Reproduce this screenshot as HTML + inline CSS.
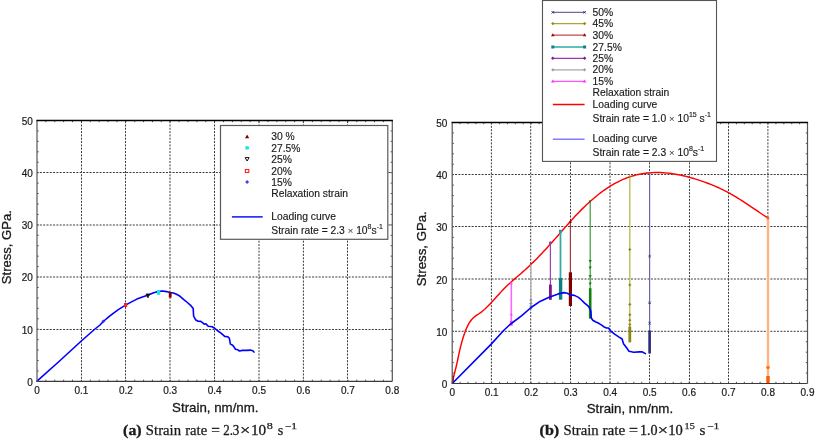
<!DOCTYPE html>
<html><head><meta charset="utf-8"><title>Stress-strain figure</title>
<style>
html,body{margin:0;padding:0;background:#fff;}
body{width:815px;height:439px;overflow:hidden;}
svg{display:block;}
text{fill:#1a1a1a;}
.tk{font-family:'Liberation Sans', Arial, sans-serif;font-size:10px;stroke:#1a1a1a;stroke-width:0.2px;}
.lg{font-family:'Liberation Sans', Arial, sans-serif;font-size:10.3px;stroke:#1a1a1a;stroke-width:0.15px;}
.sup{font-size:7px;}
.mul{font-size:9.5px;stroke-width:0;fill:#333;}
.al{font-family:'Liberation Sans', Arial, sans-serif;font-size:13.3px;stroke:#1a1a1a;stroke-width:0.3px;}
.cap{font-family:'Liberation Serif', 'Times New Roman', serif;stroke:#1a1a1a;stroke-width:0.25px;}
.capm{font-family:'Liberation Serif', 'Times New Roman', serif;stroke:#1a1a1a;stroke-width:0.3px;}
.capb{font-family:'Liberation Serif', 'Times New Roman', serif;font-weight:bold;stroke:#111;stroke-width:0.3px;}
.csup{font-family:'Liberation Serif', 'Times New Roman', serif;stroke:#1a1a1a;stroke-width:0.25px;}
</style></head><body>
<svg width="815" height="439" viewBox="0 0 815 439">
<rect width="815" height="439" fill="#fff"/>
<line x1="81.5" y1="381.4" x2="81.5" y2="120.5" stroke="#3a3a3a" stroke-width="1" stroke-dasharray="2 1.32" stroke-dashoffset="0.7"/>
<line x1="125.5" y1="381.4" x2="125.5" y2="120.5" stroke="#3a3a3a" stroke-width="1" stroke-dasharray="2 1.32" stroke-dashoffset="0.7"/>
<line x1="170" y1="381.4" x2="170" y2="120.5" stroke="#3a3a3a" stroke-width="1" stroke-dasharray="2 1.32" stroke-dashoffset="0.7"/>
<line x1="214.5" y1="381.4" x2="214.5" y2="120.5" stroke="#3a3a3a" stroke-width="1" stroke-dasharray="2 1.32" stroke-dashoffset="0.7"/>
<line x1="259" y1="381.4" x2="259" y2="120.5" stroke="#3a3a3a" stroke-width="1" stroke-dasharray="2 1.32" stroke-dashoffset="0.7"/>
<line x1="303.4" y1="381.4" x2="303.4" y2="120.5" stroke="#3a3a3a" stroke-width="1" stroke-dasharray="2 1.32" stroke-dashoffset="0.7"/>
<line x1="347.5" y1="381.4" x2="347.5" y2="120.5" stroke="#3a3a3a" stroke-width="1" stroke-dasharray="2 1.32" stroke-dashoffset="0.7"/>
<line x1="37" y1="329.5" x2="392.3" y2="329.5" stroke="#3a3a3a" stroke-width="1" stroke-dasharray="2 1.32" stroke-dashoffset="0.5"/>
<line x1="37" y1="277" x2="392.3" y2="277" stroke="#3a3a3a" stroke-width="1" stroke-dasharray="2 1.32" stroke-dashoffset="0.5"/>
<line x1="37" y1="225" x2="392.3" y2="225" stroke="#3a3a3a" stroke-width="1" stroke-dasharray="2 1.32" stroke-dashoffset="0.5"/>
<line x1="37" y1="172.5" x2="392.3" y2="172.5" stroke="#3a3a3a" stroke-width="1" stroke-dasharray="2 1.32" stroke-dashoffset="0.5"/>
<line x1="45.88" y1="381.4" x2="45.88" y2="379.7" stroke="#555" stroke-width="1"/>
<line x1="45.88" y1="120.5" x2="45.88" y2="122.2" stroke="#555" stroke-width="1"/>
<line x1="54.77" y1="381.4" x2="54.77" y2="379.7" stroke="#555" stroke-width="1"/>
<line x1="54.77" y1="120.5" x2="54.77" y2="122.2" stroke="#555" stroke-width="1"/>
<line x1="63.65" y1="381.4" x2="63.65" y2="379.7" stroke="#555" stroke-width="1"/>
<line x1="63.65" y1="120.5" x2="63.65" y2="122.2" stroke="#555" stroke-width="1"/>
<line x1="72.53" y1="381.4" x2="72.53" y2="379.7" stroke="#555" stroke-width="1"/>
<line x1="72.53" y1="120.5" x2="72.53" y2="122.2" stroke="#555" stroke-width="1"/>
<line x1="81.41" y1="381.4" x2="81.41" y2="379.7" stroke="#555" stroke-width="1"/>
<line x1="81.41" y1="120.5" x2="81.41" y2="122.2" stroke="#555" stroke-width="1"/>
<line x1="90.3" y1="381.4" x2="90.3" y2="379.7" stroke="#555" stroke-width="1"/>
<line x1="90.3" y1="120.5" x2="90.3" y2="122.2" stroke="#555" stroke-width="1"/>
<line x1="99.18" y1="381.4" x2="99.18" y2="379.7" stroke="#555" stroke-width="1"/>
<line x1="99.18" y1="120.5" x2="99.18" y2="122.2" stroke="#555" stroke-width="1"/>
<line x1="108.06" y1="381.4" x2="108.06" y2="379.7" stroke="#555" stroke-width="1"/>
<line x1="108.06" y1="120.5" x2="108.06" y2="122.2" stroke="#555" stroke-width="1"/>
<line x1="116.94" y1="381.4" x2="116.94" y2="379.7" stroke="#555" stroke-width="1"/>
<line x1="116.94" y1="120.5" x2="116.94" y2="122.2" stroke="#555" stroke-width="1"/>
<line x1="125.83" y1="381.4" x2="125.83" y2="379.7" stroke="#555" stroke-width="1"/>
<line x1="125.83" y1="120.5" x2="125.83" y2="122.2" stroke="#555" stroke-width="1"/>
<line x1="134.71" y1="381.4" x2="134.71" y2="379.7" stroke="#555" stroke-width="1"/>
<line x1="134.71" y1="120.5" x2="134.71" y2="122.2" stroke="#555" stroke-width="1"/>
<line x1="143.59" y1="381.4" x2="143.59" y2="379.7" stroke="#555" stroke-width="1"/>
<line x1="143.59" y1="120.5" x2="143.59" y2="122.2" stroke="#555" stroke-width="1"/>
<line x1="152.47" y1="381.4" x2="152.47" y2="379.7" stroke="#555" stroke-width="1"/>
<line x1="152.47" y1="120.5" x2="152.47" y2="122.2" stroke="#555" stroke-width="1"/>
<line x1="161.35" y1="381.4" x2="161.35" y2="379.7" stroke="#555" stroke-width="1"/>
<line x1="161.35" y1="120.5" x2="161.35" y2="122.2" stroke="#555" stroke-width="1"/>
<line x1="170.24" y1="381.4" x2="170.24" y2="379.7" stroke="#555" stroke-width="1"/>
<line x1="170.24" y1="120.5" x2="170.24" y2="122.2" stroke="#555" stroke-width="1"/>
<line x1="179.12" y1="381.4" x2="179.12" y2="379.7" stroke="#555" stroke-width="1"/>
<line x1="179.12" y1="120.5" x2="179.12" y2="122.2" stroke="#555" stroke-width="1"/>
<line x1="188" y1="381.4" x2="188" y2="379.7" stroke="#555" stroke-width="1"/>
<line x1="188" y1="120.5" x2="188" y2="122.2" stroke="#555" stroke-width="1"/>
<line x1="196.89" y1="381.4" x2="196.89" y2="379.7" stroke="#555" stroke-width="1"/>
<line x1="196.89" y1="120.5" x2="196.89" y2="122.2" stroke="#555" stroke-width="1"/>
<line x1="205.77" y1="381.4" x2="205.77" y2="379.7" stroke="#555" stroke-width="1"/>
<line x1="205.77" y1="120.5" x2="205.77" y2="122.2" stroke="#555" stroke-width="1"/>
<line x1="214.65" y1="381.4" x2="214.65" y2="379.7" stroke="#555" stroke-width="1"/>
<line x1="214.65" y1="120.5" x2="214.65" y2="122.2" stroke="#555" stroke-width="1"/>
<line x1="223.53" y1="381.4" x2="223.53" y2="379.7" stroke="#555" stroke-width="1"/>
<line x1="223.53" y1="120.5" x2="223.53" y2="122.2" stroke="#555" stroke-width="1"/>
<line x1="232.42" y1="381.4" x2="232.42" y2="379.7" stroke="#555" stroke-width="1"/>
<line x1="232.42" y1="120.5" x2="232.42" y2="122.2" stroke="#555" stroke-width="1"/>
<line x1="241.3" y1="381.4" x2="241.3" y2="379.7" stroke="#555" stroke-width="1"/>
<line x1="241.3" y1="120.5" x2="241.3" y2="122.2" stroke="#555" stroke-width="1"/>
<line x1="250.18" y1="381.4" x2="250.18" y2="379.7" stroke="#555" stroke-width="1"/>
<line x1="250.18" y1="120.5" x2="250.18" y2="122.2" stroke="#555" stroke-width="1"/>
<line x1="259.06" y1="381.4" x2="259.06" y2="379.7" stroke="#555" stroke-width="1"/>
<line x1="259.06" y1="120.5" x2="259.06" y2="122.2" stroke="#555" stroke-width="1"/>
<line x1="267.95" y1="381.4" x2="267.95" y2="379.7" stroke="#555" stroke-width="1"/>
<line x1="267.95" y1="120.5" x2="267.95" y2="122.2" stroke="#555" stroke-width="1"/>
<line x1="276.83" y1="381.4" x2="276.83" y2="379.7" stroke="#555" stroke-width="1"/>
<line x1="276.83" y1="120.5" x2="276.83" y2="122.2" stroke="#555" stroke-width="1"/>
<line x1="285.71" y1="381.4" x2="285.71" y2="379.7" stroke="#555" stroke-width="1"/>
<line x1="285.71" y1="120.5" x2="285.71" y2="122.2" stroke="#555" stroke-width="1"/>
<line x1="294.59" y1="381.4" x2="294.59" y2="379.7" stroke="#555" stroke-width="1"/>
<line x1="294.59" y1="120.5" x2="294.59" y2="122.2" stroke="#555" stroke-width="1"/>
<line x1="303.48" y1="381.4" x2="303.48" y2="379.7" stroke="#555" stroke-width="1"/>
<line x1="303.48" y1="120.5" x2="303.48" y2="122.2" stroke="#555" stroke-width="1"/>
<line x1="312.36" y1="381.4" x2="312.36" y2="379.7" stroke="#555" stroke-width="1"/>
<line x1="312.36" y1="120.5" x2="312.36" y2="122.2" stroke="#555" stroke-width="1"/>
<line x1="321.24" y1="381.4" x2="321.24" y2="379.7" stroke="#555" stroke-width="1"/>
<line x1="321.24" y1="120.5" x2="321.24" y2="122.2" stroke="#555" stroke-width="1"/>
<line x1="330.12" y1="381.4" x2="330.12" y2="379.7" stroke="#555" stroke-width="1"/>
<line x1="330.12" y1="120.5" x2="330.12" y2="122.2" stroke="#555" stroke-width="1"/>
<line x1="339" y1="381.4" x2="339" y2="379.7" stroke="#555" stroke-width="1"/>
<line x1="339" y1="120.5" x2="339" y2="122.2" stroke="#555" stroke-width="1"/>
<line x1="347.89" y1="381.4" x2="347.89" y2="379.7" stroke="#555" stroke-width="1"/>
<line x1="347.89" y1="120.5" x2="347.89" y2="122.2" stroke="#555" stroke-width="1"/>
<line x1="356.77" y1="381.4" x2="356.77" y2="379.7" stroke="#555" stroke-width="1"/>
<line x1="356.77" y1="120.5" x2="356.77" y2="122.2" stroke="#555" stroke-width="1"/>
<line x1="365.65" y1="381.4" x2="365.65" y2="379.7" stroke="#555" stroke-width="1"/>
<line x1="365.65" y1="120.5" x2="365.65" y2="122.2" stroke="#555" stroke-width="1"/>
<line x1="374.53" y1="381.4" x2="374.53" y2="379.7" stroke="#555" stroke-width="1"/>
<line x1="374.53" y1="120.5" x2="374.53" y2="122.2" stroke="#555" stroke-width="1"/>
<line x1="383.42" y1="381.4" x2="383.42" y2="379.7" stroke="#555" stroke-width="1"/>
<line x1="383.42" y1="120.5" x2="383.42" y2="122.2" stroke="#555" stroke-width="1"/>
<line x1="37" y1="370.96" x2="38.7" y2="370.96" stroke="#555" stroke-width="1"/>
<line x1="392.3" y1="370.96" x2="390.6" y2="370.96" stroke="#555" stroke-width="1"/>
<line x1="37" y1="360.53" x2="38.7" y2="360.53" stroke="#555" stroke-width="1"/>
<line x1="392.3" y1="360.53" x2="390.6" y2="360.53" stroke="#555" stroke-width="1"/>
<line x1="37" y1="350.09" x2="38.7" y2="350.09" stroke="#555" stroke-width="1"/>
<line x1="392.3" y1="350.09" x2="390.6" y2="350.09" stroke="#555" stroke-width="1"/>
<line x1="37" y1="339.66" x2="38.7" y2="339.66" stroke="#555" stroke-width="1"/>
<line x1="392.3" y1="339.66" x2="390.6" y2="339.66" stroke="#555" stroke-width="1"/>
<line x1="37" y1="329.22" x2="38.7" y2="329.22" stroke="#555" stroke-width="1"/>
<line x1="392.3" y1="329.22" x2="390.6" y2="329.22" stroke="#555" stroke-width="1"/>
<line x1="37" y1="318.78" x2="38.7" y2="318.78" stroke="#555" stroke-width="1"/>
<line x1="392.3" y1="318.78" x2="390.6" y2="318.78" stroke="#555" stroke-width="1"/>
<line x1="37" y1="308.35" x2="38.7" y2="308.35" stroke="#555" stroke-width="1"/>
<line x1="392.3" y1="308.35" x2="390.6" y2="308.35" stroke="#555" stroke-width="1"/>
<line x1="37" y1="297.91" x2="38.7" y2="297.91" stroke="#555" stroke-width="1"/>
<line x1="392.3" y1="297.91" x2="390.6" y2="297.91" stroke="#555" stroke-width="1"/>
<line x1="37" y1="287.48" x2="38.7" y2="287.48" stroke="#555" stroke-width="1"/>
<line x1="392.3" y1="287.48" x2="390.6" y2="287.48" stroke="#555" stroke-width="1"/>
<line x1="37" y1="277.04" x2="38.7" y2="277.04" stroke="#555" stroke-width="1"/>
<line x1="392.3" y1="277.04" x2="390.6" y2="277.04" stroke="#555" stroke-width="1"/>
<line x1="37" y1="266.6" x2="38.7" y2="266.6" stroke="#555" stroke-width="1"/>
<line x1="392.3" y1="266.6" x2="390.6" y2="266.6" stroke="#555" stroke-width="1"/>
<line x1="37" y1="256.17" x2="38.7" y2="256.17" stroke="#555" stroke-width="1"/>
<line x1="392.3" y1="256.17" x2="390.6" y2="256.17" stroke="#555" stroke-width="1"/>
<line x1="37" y1="245.73" x2="38.7" y2="245.73" stroke="#555" stroke-width="1"/>
<line x1="392.3" y1="245.73" x2="390.6" y2="245.73" stroke="#555" stroke-width="1"/>
<line x1="37" y1="235.3" x2="38.7" y2="235.3" stroke="#555" stroke-width="1"/>
<line x1="392.3" y1="235.3" x2="390.6" y2="235.3" stroke="#555" stroke-width="1"/>
<line x1="37" y1="224.86" x2="38.7" y2="224.86" stroke="#555" stroke-width="1"/>
<line x1="392.3" y1="224.86" x2="390.6" y2="224.86" stroke="#555" stroke-width="1"/>
<line x1="37" y1="214.42" x2="38.7" y2="214.42" stroke="#555" stroke-width="1"/>
<line x1="392.3" y1="214.42" x2="390.6" y2="214.42" stroke="#555" stroke-width="1"/>
<line x1="37" y1="203.99" x2="38.7" y2="203.99" stroke="#555" stroke-width="1"/>
<line x1="392.3" y1="203.99" x2="390.6" y2="203.99" stroke="#555" stroke-width="1"/>
<line x1="37" y1="193.55" x2="38.7" y2="193.55" stroke="#555" stroke-width="1"/>
<line x1="392.3" y1="193.55" x2="390.6" y2="193.55" stroke="#555" stroke-width="1"/>
<line x1="37" y1="183.12" x2="38.7" y2="183.12" stroke="#555" stroke-width="1"/>
<line x1="392.3" y1="183.12" x2="390.6" y2="183.12" stroke="#555" stroke-width="1"/>
<line x1="37" y1="172.68" x2="38.7" y2="172.68" stroke="#555" stroke-width="1"/>
<line x1="392.3" y1="172.68" x2="390.6" y2="172.68" stroke="#555" stroke-width="1"/>
<line x1="37" y1="162.24" x2="38.7" y2="162.24" stroke="#555" stroke-width="1"/>
<line x1="392.3" y1="162.24" x2="390.6" y2="162.24" stroke="#555" stroke-width="1"/>
<line x1="37" y1="151.81" x2="38.7" y2="151.81" stroke="#555" stroke-width="1"/>
<line x1="392.3" y1="151.81" x2="390.6" y2="151.81" stroke="#555" stroke-width="1"/>
<line x1="37" y1="141.37" x2="38.7" y2="141.37" stroke="#555" stroke-width="1"/>
<line x1="392.3" y1="141.37" x2="390.6" y2="141.37" stroke="#555" stroke-width="1"/>
<line x1="37" y1="130.94" x2="38.7" y2="130.94" stroke="#555" stroke-width="1"/>
<line x1="392.3" y1="130.94" x2="390.6" y2="130.94" stroke="#555" stroke-width="1"/>
<text x="37" y="394.2" text-anchor="middle" class="tk">0</text>
<text x="81.41" y="394.2" text-anchor="middle" class="tk">0.1</text>
<text x="125.83" y="394.2" text-anchor="middle" class="tk">0.2</text>
<text x="170.24" y="394.2" text-anchor="middle" class="tk">0.3</text>
<text x="214.65" y="394.2" text-anchor="middle" class="tk">0.4</text>
<text x="259.06" y="394.2" text-anchor="middle" class="tk">0.5</text>
<text x="303.48" y="394.2" text-anchor="middle" class="tk">0.6</text>
<text x="347.89" y="394.2" text-anchor="middle" class="tk">0.7</text>
<text x="392.3" y="394.2" text-anchor="middle" class="tk">0.8</text>
<text x="32.8" y="385.8" text-anchor="end" class="tk">0</text>
<text x="32.8" y="333.62" text-anchor="end" class="tk">10</text>
<text x="32.8" y="281.44" text-anchor="end" class="tk">20</text>
<text x="32.8" y="229.26" text-anchor="end" class="tk">30</text>
<text x="32.8" y="177.08" text-anchor="end" class="tk">40</text>
<text x="32.8" y="124.9" text-anchor="end" class="tk">50</text>
<line x1="491.4" y1="383.5" x2="491.4" y2="122.5" stroke="#3a3a3a" stroke-width="1" stroke-dasharray="2 1.32" stroke-dashoffset="0"/>
<line x1="530.7" y1="383.5" x2="530.7" y2="122.5" stroke="#3a3a3a" stroke-width="1" stroke-dasharray="2 1.32" stroke-dashoffset="0"/>
<line x1="570.5" y1="383.5" x2="570.5" y2="122.5" stroke="#3a3a3a" stroke-width="1" stroke-dasharray="2 1.32" stroke-dashoffset="0"/>
<line x1="610" y1="383.5" x2="610" y2="122.5" stroke="#3a3a3a" stroke-width="1" stroke-dasharray="2 1.32" stroke-dashoffset="0"/>
<line x1="649.5" y1="383.5" x2="649.5" y2="122.5" stroke="#3a3a3a" stroke-width="1" stroke-dasharray="2 1.32" stroke-dashoffset="0"/>
<line x1="689.5" y1="383.5" x2="689.5" y2="122.5" stroke="#3a3a3a" stroke-width="1" stroke-dasharray="2 1.32" stroke-dashoffset="0"/>
<line x1="728.5" y1="383.5" x2="728.5" y2="122.5" stroke="#3a3a3a" stroke-width="1" stroke-dasharray="2 1.32" stroke-dashoffset="0"/>
<line x1="767.9" y1="383.5" x2="767.9" y2="122.5" stroke="#3a3a3a" stroke-width="1" stroke-dasharray="2 1.32" stroke-dashoffset="0"/>
<line x1="452.2" y1="331.3" x2="807.5" y2="331.3" stroke="#3a3a3a" stroke-width="1" stroke-dasharray="2 1.32" stroke-dashoffset="0.5"/>
<line x1="452.2" y1="279" x2="807.5" y2="279" stroke="#3a3a3a" stroke-width="1" stroke-dasharray="2 1.32" stroke-dashoffset="0.5"/>
<line x1="452.2" y1="226.5" x2="807.5" y2="226.5" stroke="#3a3a3a" stroke-width="1" stroke-dasharray="2 1.32" stroke-dashoffset="0.5"/>
<line x1="452.2" y1="174.5" x2="807.5" y2="174.5" stroke="#3a3a3a" stroke-width="1" stroke-dasharray="2 1.32" stroke-dashoffset="0.5"/>
<line x1="460.1" y1="383.5" x2="460.1" y2="381.8" stroke="#555" stroke-width="1"/>
<line x1="460.1" y1="122.5" x2="460.1" y2="124.2" stroke="#555" stroke-width="1"/>
<line x1="467.99" y1="383.5" x2="467.99" y2="381.8" stroke="#555" stroke-width="1"/>
<line x1="467.99" y1="122.5" x2="467.99" y2="124.2" stroke="#555" stroke-width="1"/>
<line x1="475.89" y1="383.5" x2="475.89" y2="381.8" stroke="#555" stroke-width="1"/>
<line x1="475.89" y1="122.5" x2="475.89" y2="124.2" stroke="#555" stroke-width="1"/>
<line x1="483.78" y1="383.5" x2="483.78" y2="381.8" stroke="#555" stroke-width="1"/>
<line x1="483.78" y1="122.5" x2="483.78" y2="124.2" stroke="#555" stroke-width="1"/>
<line x1="491.68" y1="383.5" x2="491.68" y2="381.8" stroke="#555" stroke-width="1"/>
<line x1="491.68" y1="122.5" x2="491.68" y2="124.2" stroke="#555" stroke-width="1"/>
<line x1="499.57" y1="383.5" x2="499.57" y2="381.8" stroke="#555" stroke-width="1"/>
<line x1="499.57" y1="122.5" x2="499.57" y2="124.2" stroke="#555" stroke-width="1"/>
<line x1="507.47" y1="383.5" x2="507.47" y2="381.8" stroke="#555" stroke-width="1"/>
<line x1="507.47" y1="122.5" x2="507.47" y2="124.2" stroke="#555" stroke-width="1"/>
<line x1="515.36" y1="383.5" x2="515.36" y2="381.8" stroke="#555" stroke-width="1"/>
<line x1="515.36" y1="122.5" x2="515.36" y2="124.2" stroke="#555" stroke-width="1"/>
<line x1="523.26" y1="383.5" x2="523.26" y2="381.8" stroke="#555" stroke-width="1"/>
<line x1="523.26" y1="122.5" x2="523.26" y2="124.2" stroke="#555" stroke-width="1"/>
<line x1="531.16" y1="383.5" x2="531.16" y2="381.8" stroke="#555" stroke-width="1"/>
<line x1="531.16" y1="122.5" x2="531.16" y2="124.2" stroke="#555" stroke-width="1"/>
<line x1="539.05" y1="383.5" x2="539.05" y2="381.8" stroke="#555" stroke-width="1"/>
<line x1="539.05" y1="122.5" x2="539.05" y2="124.2" stroke="#555" stroke-width="1"/>
<line x1="546.95" y1="383.5" x2="546.95" y2="381.8" stroke="#555" stroke-width="1"/>
<line x1="546.95" y1="122.5" x2="546.95" y2="124.2" stroke="#555" stroke-width="1"/>
<line x1="554.84" y1="383.5" x2="554.84" y2="381.8" stroke="#555" stroke-width="1"/>
<line x1="554.84" y1="122.5" x2="554.84" y2="124.2" stroke="#555" stroke-width="1"/>
<line x1="562.74" y1="383.5" x2="562.74" y2="381.8" stroke="#555" stroke-width="1"/>
<line x1="562.74" y1="122.5" x2="562.74" y2="124.2" stroke="#555" stroke-width="1"/>
<line x1="570.63" y1="383.5" x2="570.63" y2="381.8" stroke="#555" stroke-width="1"/>
<line x1="570.63" y1="122.5" x2="570.63" y2="124.2" stroke="#555" stroke-width="1"/>
<line x1="578.53" y1="383.5" x2="578.53" y2="381.8" stroke="#555" stroke-width="1"/>
<line x1="578.53" y1="122.5" x2="578.53" y2="124.2" stroke="#555" stroke-width="1"/>
<line x1="586.42" y1="383.5" x2="586.42" y2="381.8" stroke="#555" stroke-width="1"/>
<line x1="586.42" y1="122.5" x2="586.42" y2="124.2" stroke="#555" stroke-width="1"/>
<line x1="594.32" y1="383.5" x2="594.32" y2="381.8" stroke="#555" stroke-width="1"/>
<line x1="594.32" y1="122.5" x2="594.32" y2="124.2" stroke="#555" stroke-width="1"/>
<line x1="602.22" y1="383.5" x2="602.22" y2="381.8" stroke="#555" stroke-width="1"/>
<line x1="602.22" y1="122.5" x2="602.22" y2="124.2" stroke="#555" stroke-width="1"/>
<line x1="610.11" y1="383.5" x2="610.11" y2="381.8" stroke="#555" stroke-width="1"/>
<line x1="610.11" y1="122.5" x2="610.11" y2="124.2" stroke="#555" stroke-width="1"/>
<line x1="618.01" y1="383.5" x2="618.01" y2="381.8" stroke="#555" stroke-width="1"/>
<line x1="618.01" y1="122.5" x2="618.01" y2="124.2" stroke="#555" stroke-width="1"/>
<line x1="625.9" y1="383.5" x2="625.9" y2="381.8" stroke="#555" stroke-width="1"/>
<line x1="625.9" y1="122.5" x2="625.9" y2="124.2" stroke="#555" stroke-width="1"/>
<line x1="633.8" y1="383.5" x2="633.8" y2="381.8" stroke="#555" stroke-width="1"/>
<line x1="633.8" y1="122.5" x2="633.8" y2="124.2" stroke="#555" stroke-width="1"/>
<line x1="641.69" y1="383.5" x2="641.69" y2="381.8" stroke="#555" stroke-width="1"/>
<line x1="641.69" y1="122.5" x2="641.69" y2="124.2" stroke="#555" stroke-width="1"/>
<line x1="649.59" y1="383.5" x2="649.59" y2="381.8" stroke="#555" stroke-width="1"/>
<line x1="649.59" y1="122.5" x2="649.59" y2="124.2" stroke="#555" stroke-width="1"/>
<line x1="657.48" y1="383.5" x2="657.48" y2="381.8" stroke="#555" stroke-width="1"/>
<line x1="657.48" y1="122.5" x2="657.48" y2="124.2" stroke="#555" stroke-width="1"/>
<line x1="665.38" y1="383.5" x2="665.38" y2="381.8" stroke="#555" stroke-width="1"/>
<line x1="665.38" y1="122.5" x2="665.38" y2="124.2" stroke="#555" stroke-width="1"/>
<line x1="673.28" y1="383.5" x2="673.28" y2="381.8" stroke="#555" stroke-width="1"/>
<line x1="673.28" y1="122.5" x2="673.28" y2="124.2" stroke="#555" stroke-width="1"/>
<line x1="681.17" y1="383.5" x2="681.17" y2="381.8" stroke="#555" stroke-width="1"/>
<line x1="681.17" y1="122.5" x2="681.17" y2="124.2" stroke="#555" stroke-width="1"/>
<line x1="689.07" y1="383.5" x2="689.07" y2="381.8" stroke="#555" stroke-width="1"/>
<line x1="689.07" y1="122.5" x2="689.07" y2="124.2" stroke="#555" stroke-width="1"/>
<line x1="696.96" y1="383.5" x2="696.96" y2="381.8" stroke="#555" stroke-width="1"/>
<line x1="696.96" y1="122.5" x2="696.96" y2="124.2" stroke="#555" stroke-width="1"/>
<line x1="704.86" y1="383.5" x2="704.86" y2="381.8" stroke="#555" stroke-width="1"/>
<line x1="704.86" y1="122.5" x2="704.86" y2="124.2" stroke="#555" stroke-width="1"/>
<line x1="712.75" y1="383.5" x2="712.75" y2="381.8" stroke="#555" stroke-width="1"/>
<line x1="712.75" y1="122.5" x2="712.75" y2="124.2" stroke="#555" stroke-width="1"/>
<line x1="720.65" y1="383.5" x2="720.65" y2="381.8" stroke="#555" stroke-width="1"/>
<line x1="720.65" y1="122.5" x2="720.65" y2="124.2" stroke="#555" stroke-width="1"/>
<line x1="728.54" y1="383.5" x2="728.54" y2="381.8" stroke="#555" stroke-width="1"/>
<line x1="728.54" y1="122.5" x2="728.54" y2="124.2" stroke="#555" stroke-width="1"/>
<line x1="736.44" y1="383.5" x2="736.44" y2="381.8" stroke="#555" stroke-width="1"/>
<line x1="736.44" y1="122.5" x2="736.44" y2="124.2" stroke="#555" stroke-width="1"/>
<line x1="744.34" y1="383.5" x2="744.34" y2="381.8" stroke="#555" stroke-width="1"/>
<line x1="744.34" y1="122.5" x2="744.34" y2="124.2" stroke="#555" stroke-width="1"/>
<line x1="752.23" y1="383.5" x2="752.23" y2="381.8" stroke="#555" stroke-width="1"/>
<line x1="752.23" y1="122.5" x2="752.23" y2="124.2" stroke="#555" stroke-width="1"/>
<line x1="760.13" y1="383.5" x2="760.13" y2="381.8" stroke="#555" stroke-width="1"/>
<line x1="760.13" y1="122.5" x2="760.13" y2="124.2" stroke="#555" stroke-width="1"/>
<line x1="768.02" y1="383.5" x2="768.02" y2="381.8" stroke="#555" stroke-width="1"/>
<line x1="768.02" y1="122.5" x2="768.02" y2="124.2" stroke="#555" stroke-width="1"/>
<line x1="775.92" y1="383.5" x2="775.92" y2="381.8" stroke="#555" stroke-width="1"/>
<line x1="775.92" y1="122.5" x2="775.92" y2="124.2" stroke="#555" stroke-width="1"/>
<line x1="783.81" y1="383.5" x2="783.81" y2="381.8" stroke="#555" stroke-width="1"/>
<line x1="783.81" y1="122.5" x2="783.81" y2="124.2" stroke="#555" stroke-width="1"/>
<line x1="791.71" y1="383.5" x2="791.71" y2="381.8" stroke="#555" stroke-width="1"/>
<line x1="791.71" y1="122.5" x2="791.71" y2="124.2" stroke="#555" stroke-width="1"/>
<line x1="799.6" y1="383.5" x2="799.6" y2="381.8" stroke="#555" stroke-width="1"/>
<line x1="799.6" y1="122.5" x2="799.6" y2="124.2" stroke="#555" stroke-width="1"/>
<line x1="452.2" y1="373.06" x2="453.9" y2="373.06" stroke="#555" stroke-width="1"/>
<line x1="807.5" y1="373.06" x2="805.8" y2="373.06" stroke="#555" stroke-width="1"/>
<line x1="452.2" y1="362.62" x2="453.9" y2="362.62" stroke="#555" stroke-width="1"/>
<line x1="807.5" y1="362.62" x2="805.8" y2="362.62" stroke="#555" stroke-width="1"/>
<line x1="452.2" y1="352.18" x2="453.9" y2="352.18" stroke="#555" stroke-width="1"/>
<line x1="807.5" y1="352.18" x2="805.8" y2="352.18" stroke="#555" stroke-width="1"/>
<line x1="452.2" y1="341.74" x2="453.9" y2="341.74" stroke="#555" stroke-width="1"/>
<line x1="807.5" y1="341.74" x2="805.8" y2="341.74" stroke="#555" stroke-width="1"/>
<line x1="452.2" y1="331.3" x2="453.9" y2="331.3" stroke="#555" stroke-width="1"/>
<line x1="807.5" y1="331.3" x2="805.8" y2="331.3" stroke="#555" stroke-width="1"/>
<line x1="452.2" y1="320.86" x2="453.9" y2="320.86" stroke="#555" stroke-width="1"/>
<line x1="807.5" y1="320.86" x2="805.8" y2="320.86" stroke="#555" stroke-width="1"/>
<line x1="452.2" y1="310.42" x2="453.9" y2="310.42" stroke="#555" stroke-width="1"/>
<line x1="807.5" y1="310.42" x2="805.8" y2="310.42" stroke="#555" stroke-width="1"/>
<line x1="452.2" y1="299.98" x2="453.9" y2="299.98" stroke="#555" stroke-width="1"/>
<line x1="807.5" y1="299.98" x2="805.8" y2="299.98" stroke="#555" stroke-width="1"/>
<line x1="452.2" y1="289.54" x2="453.9" y2="289.54" stroke="#555" stroke-width="1"/>
<line x1="807.5" y1="289.54" x2="805.8" y2="289.54" stroke="#555" stroke-width="1"/>
<line x1="452.2" y1="279.1" x2="453.9" y2="279.1" stroke="#555" stroke-width="1"/>
<line x1="807.5" y1="279.1" x2="805.8" y2="279.1" stroke="#555" stroke-width="1"/>
<line x1="452.2" y1="268.66" x2="453.9" y2="268.66" stroke="#555" stroke-width="1"/>
<line x1="807.5" y1="268.66" x2="805.8" y2="268.66" stroke="#555" stroke-width="1"/>
<line x1="452.2" y1="258.22" x2="453.9" y2="258.22" stroke="#555" stroke-width="1"/>
<line x1="807.5" y1="258.22" x2="805.8" y2="258.22" stroke="#555" stroke-width="1"/>
<line x1="452.2" y1="247.78" x2="453.9" y2="247.78" stroke="#555" stroke-width="1"/>
<line x1="807.5" y1="247.78" x2="805.8" y2="247.78" stroke="#555" stroke-width="1"/>
<line x1="452.2" y1="237.34" x2="453.9" y2="237.34" stroke="#555" stroke-width="1"/>
<line x1="807.5" y1="237.34" x2="805.8" y2="237.34" stroke="#555" stroke-width="1"/>
<line x1="452.2" y1="226.9" x2="453.9" y2="226.9" stroke="#555" stroke-width="1"/>
<line x1="807.5" y1="226.9" x2="805.8" y2="226.9" stroke="#555" stroke-width="1"/>
<line x1="452.2" y1="216.46" x2="453.9" y2="216.46" stroke="#555" stroke-width="1"/>
<line x1="807.5" y1="216.46" x2="805.8" y2="216.46" stroke="#555" stroke-width="1"/>
<line x1="452.2" y1="206.02" x2="453.9" y2="206.02" stroke="#555" stroke-width="1"/>
<line x1="807.5" y1="206.02" x2="805.8" y2="206.02" stroke="#555" stroke-width="1"/>
<line x1="452.2" y1="195.58" x2="453.9" y2="195.58" stroke="#555" stroke-width="1"/>
<line x1="807.5" y1="195.58" x2="805.8" y2="195.58" stroke="#555" stroke-width="1"/>
<line x1="452.2" y1="185.14" x2="453.9" y2="185.14" stroke="#555" stroke-width="1"/>
<line x1="807.5" y1="185.14" x2="805.8" y2="185.14" stroke="#555" stroke-width="1"/>
<line x1="452.2" y1="174.7" x2="453.9" y2="174.7" stroke="#555" stroke-width="1"/>
<line x1="807.5" y1="174.7" x2="805.8" y2="174.7" stroke="#555" stroke-width="1"/>
<line x1="452.2" y1="164.26" x2="453.9" y2="164.26" stroke="#555" stroke-width="1"/>
<line x1="807.5" y1="164.26" x2="805.8" y2="164.26" stroke="#555" stroke-width="1"/>
<line x1="452.2" y1="153.82" x2="453.9" y2="153.82" stroke="#555" stroke-width="1"/>
<line x1="807.5" y1="153.82" x2="805.8" y2="153.82" stroke="#555" stroke-width="1"/>
<line x1="452.2" y1="143.38" x2="453.9" y2="143.38" stroke="#555" stroke-width="1"/>
<line x1="807.5" y1="143.38" x2="805.8" y2="143.38" stroke="#555" stroke-width="1"/>
<line x1="452.2" y1="132.94" x2="453.9" y2="132.94" stroke="#555" stroke-width="1"/>
<line x1="807.5" y1="132.94" x2="805.8" y2="132.94" stroke="#555" stroke-width="1"/>
<text x="452.2" y="396" text-anchor="middle" class="tk">0</text>
<text x="491.68" y="396" text-anchor="middle" class="tk">0.1</text>
<text x="531.16" y="396" text-anchor="middle" class="tk">0.2</text>
<text x="570.63" y="396" text-anchor="middle" class="tk">0.3</text>
<text x="610.11" y="396" text-anchor="middle" class="tk">0.4</text>
<text x="649.59" y="396" text-anchor="middle" class="tk">0.5</text>
<text x="689.07" y="396" text-anchor="middle" class="tk">0.6</text>
<text x="728.54" y="396" text-anchor="middle" class="tk">0.7</text>
<text x="768.02" y="396" text-anchor="middle" class="tk">0.8</text>
<text x="807.5" y="396" text-anchor="middle" class="tk">0.9</text>
<text x="447.3" y="387.9" text-anchor="end" class="tk">0</text>
<text x="447.3" y="335.7" text-anchor="end" class="tk">10</text>
<text x="447.3" y="283.5" text-anchor="end" class="tk">20</text>
<text x="447.3" y="231.3" text-anchor="end" class="tk">30</text>
<text x="447.3" y="179.1" text-anchor="end" class="tk">40</text>
<text x="447.3" y="126.9" text-anchor="end" class="tk">50</text>
<polyline points="37,381.2 59,361.5 81.3,341 94.4,329.5 100,325 103.2,321.5 108.7,316.9 113.2,313.3 118.7,309.4 125.5,305.1 131.5,301.9 136.9,299.1 142.4,296.9 147.7,295.2 153.7,292.8 158.2,291.4 162.8,291 166.4,291.6 170.1,292.6 173.3,293 176.5,294.3 180.1,296.3 183.8,299.6 187.4,302.5 190.6,305.3 193.2,308.6 193.6,316 195.5,319.7 198,321.2 200.8,321.4 203.1,323.1 204.2,324.2 205.9,323.7 208.2,326.3 212.2,326.8 214.5,328.2 217.3,330.5 221.3,333.3 224.7,336.4 227.6,336.7 229.3,338.2 230.4,344.1 232.7,345.3 234.4,347.6 235.5,349.3 237.8,349.8 239.5,351 242.4,350.4 246.9,350.4 250.3,350.1 253.2,351 254,352.1" fill="none" stroke="#0000ff" stroke-width="1.6" stroke-linejoin="round" stroke-linecap="round" />
<rect x="102" y="320" width="2.6" height="2.6" fill="#3030ff" transform="rotate(45 103.3 321.3)"/>
<rect x="124" y="303" width="3.2" height="4" fill="#ff2020"/>
<path d="M146.0 293.9 L149.8 293.9 L147.9 297.9 Z" fill="#111" stroke="#111" stroke-width="0.7" stroke-linejoin="round"/>
<rect x="157" y="290.2" width="3.2" height="4.6" fill="#10e8f0"/>
<rect x="168.8" y="292" width="2.8" height="5.6" fill="#800000"/>
<polyline points="452.3,383.25 452.8,380.58 453.3,378.22 453.8,376.09 454.3,374.1 454.8,372.17 455.3,370.21 455.8,368.19 456.3,366.09 456.8,363.9 457.3,361.61 457.8,359.23 458.3,356.82 458.8,354.43 459.3,352.13 459.8,349.94 460.3,347.86 460.8,345.87 461.3,343.96 461.8,342.13 462.3,340.37 462.8,338.69 463.3,337.08 463.8,335.53 464.3,334.06 464.8,332.66 465.3,331.32 465.8,330.04 466.3,328.83 466.8,327.69 467.3,326.6 467.8,325.58 468.3,324.61 468.8,323.7 469.3,322.85 469.8,322.05 470,321.75 471.5,319.73 473,318.12 474.5,316.8 476,315.7 477.5,314.72 479,313.75 480.5,312.7 482,311.55 483.5,310.3 485,308.96 486.5,307.54 488,306.06 489.5,304.51 491,302.93 492.5,301.3 494,299.65 495.5,297.98 497,296.31 498.5,294.65 500,293 501.5,291.38 503,289.79 504.5,288.26 506,286.77 507.5,285.33 509,283.93 510.5,282.56 512,281.22 513.5,279.9 515,278.6 516.5,277.31 518,276.02 519.5,274.73 521,273.44 522.5,272.14 524,270.81 525.5,269.47 527,268.1 528.5,266.71 530,265.29 531.5,263.85 533,262.39 534.5,260.91 536,259.41 537.5,257.89 539,256.35 540.5,254.79 542,253.21 543.5,251.62 545,250.01 546.5,248.39 548,246.76 549.5,245.11 551,243.44 552.5,241.77 554,240.08 555.5,238.38 557,236.67 558.5,234.96 560,233.24 561.5,231.51 563,229.79 564.5,228.07 566,226.36 567.5,224.66 569,222.96 570.5,221.28 572,219.62 573.5,217.98 575,216.35 576.5,214.76 578,213.19 579.5,211.64 581,210.12 582.5,208.63 584,207.16 585.5,205.72 587,204.31 588.5,202.93 590,201.58 591.5,200.25 593,198.95 594.5,197.68 596,196.44 597.5,195.23 599,194.05 600.5,192.9 602,191.78 603.5,190.69 605,189.63 606.5,188.61 608,187.61 609.5,186.65 611,185.71 612.5,184.81 614,183.95 615.5,183.11 617,182.31 618.5,181.54 620,180.81 621.5,180.11 623,179.44 624.5,178.81 626,178.21 627.5,177.65 629,177.11 630.5,176.61 632,176.14 633.5,175.7 635,175.29 636.5,174.91 638,174.57 639.5,174.25 641,173.95 642.5,173.69 644,173.46 645.5,173.25 647,173.07 648.5,172.92 650,172.79 651.5,172.69 653,172.61 654.5,172.56 656,172.53 657.5,172.53 659,172.55 660.5,172.59 662,172.66 663.5,172.75 665,172.86 666.5,172.99 668,173.14 669.5,173.31 671,173.5 672.5,173.71 674,173.94 675.5,174.19 677,174.46 678.5,174.75 680,175.05 681.5,175.37 683,175.7 684.5,176.06 686,176.42 687.5,176.81 689,177.2 690.5,177.61 692,178.04 693.5,178.48 695,178.93 696.5,179.39 698,179.87 699.5,180.35 701,180.85 702.5,181.36 704,181.88 705.5,182.42 707,182.97 708.5,183.53 710,184.1 711.5,184.7 713,185.3 714.5,185.93 716,186.57 717.5,187.23 719,187.9 720.5,188.6 722,189.31 723.5,190.05 725,190.81 726.5,191.58 728,192.38 729.5,193.2 731,194.05 732.5,194.91 734,195.79 735.5,196.69 737,197.61 738.5,198.54 740,199.49 741.5,200.45 743,201.42 744.5,202.4 746,203.39 747.5,204.38 749,205.39 750.5,206.4 752,207.41 753.5,208.42 755,209.44 756.5,210.46 758,211.47 759.5,212.48 761,213.49 762.5,214.5 764,215.49 765.5,216.48 767,217.46 767.8,217.98" fill="none" stroke="#ff0000" stroke-width="1.45" stroke-linejoin="round" stroke-linecap="round" />
<line x1="511.3" y1="282.3" x2="511.3" y2="325.3" stroke="#ff66ff" stroke-width="1.6"/>
<path d="M511.3 281.7 l1.6 2.6 l-3.2 0 Z" fill="#ff44ff"/>
<path d="M511.3 312.9 l1.6 2.6 l-3.2 0 Z" fill="#ff44ff"/>
<rect x="509.9" y="320.8" width="2.8" height="4.8" fill="#ff44ff"/>
<line x1="530.9" y1="264.7" x2="530.9" y2="309.2" stroke="#b4b4b4" stroke-width="1.4"/>
<path d="M529.4 300 l3 0 M530.9 298.5 l0 3" stroke="#8a8a8a" stroke-width="0.9"/>
<path d="M529.4 303.5 l3 0 M530.9 302 l0 3" stroke="#8a8a8a" stroke-width="0.9"/>
<rect x="529.7" y="305.4" width="2.4" height="3.8" fill="#8c8c8c"/>
<line x1="550.4" y1="242.6" x2="550.4" y2="299.6" stroke="#a040b0" stroke-width="1.2"/>
<rect x="549" y="284.6" width="2.8" height="15.2" fill="#7a1a8a"/>
<circle cx="550.4" cy="242.8" r="1.5" fill="#9040a0"/>
<line x1="560.5" y1="231.3" x2="560.5" y2="299.6" stroke="#3aa8a8" stroke-width="1.8"/>
<rect x="558.9" y="278" width="3.4" height="21.6" fill="#0e8080"/>
<rect x="559" y="229.8" width="3" height="3" fill="#2a9a9a"/>
<line x1="570.4" y1="221.5" x2="570.4" y2="306" stroke="#a03a3a" stroke-width="1.2"/>
<rect x="568.8" y="272.3" width="3.2" height="33.7" fill="#800000"/>
<path d="M570.4 220.0 l1.6 2.8 l-3.2 0 Z" fill="#900000"/>
<line x1="590.2" y1="201.6" x2="590.2" y2="318.5" stroke="#3a9a3a" stroke-width="1.2"/>
<path d="M588.6 260.1 l3.2 0 l-1.6 2.8 Z" fill="#108010"/>
<path d="M588.6 266.5 l3.2 0 l-1.6 2.8 Z" fill="#108010"/>
<path d="M588.6 275.2 l3.2 0 l-1.6 2.8 Z" fill="#108010"/>
<path d="M588.6 282.4 l3.2 0 l-1.6 2.8 Z" fill="#108010"/>
<rect x="588.9" y="288.2" width="2.6" height="30.3" fill="#108010"/>
<circle cx="590" cy="201.4" r="1.1" fill="#107010"/>
<line x1="629.8" y1="176.4" x2="629.8" y2="342.3" stroke="#b8b850" stroke-width="1.3"/>
<path d="M629.8 247.9 l1.6 1.6 l-1.6 1.6 l-1.6 -1.6 Z" fill="#8a8a10"/>
<path d="M629.8 283.3 l1.6 1.6 l-1.6 1.6 l-1.6 -1.6 Z" fill="#8a8a10"/>
<path d="M629.8 302.8 l1.6 1.6 l-1.6 1.6 l-1.6 -1.6 Z" fill="#8a8a10"/>
<path d="M629.8 313.2 l1.6 1.6 l-1.6 1.6 l-1.6 -1.6 Z" fill="#8a8a10"/>
<path d="M629.8 318.6 l1.6 1.6 l-1.6 1.6 l-1.6 -1.6 Z" fill="#8a8a10"/>
<path d="M629.8 322.8 l1.6 1.6 l-1.6 1.6 l-1.6 -1.6 Z" fill="#8a8a10"/>
<rect x="628.4" y="326.5" width="2.8" height="15.8" fill="#8a8a10"/>
<path d="M629.8 175.0 l1.5 1.5 l-1.5 1.5 l-1.5 -1.5 Z" fill="#8a8a10"/>
<line x1="649.6" y1="172.4" x2="649.6" y2="353" stroke="#6a6aaa" stroke-width="1.2"/>
<path d="M648.4 254.8 l2.4 2.4 M650.8 254.8 l-2.4 2.4" stroke="#30307a" stroke-width="0.9"/>
<path d="M648.4 301.6 l2.4 2.4 M650.8 301.6 l-2.4 2.4" stroke="#30307a" stroke-width="0.9"/>
<path d="M648.4 322 l2.4 2.4 M650.8 322 l-2.4 2.4" stroke="#30307a" stroke-width="0.9"/>
<rect x="648.3" y="330.5" width="2.6" height="23" fill="#2a2a78"/>
<line x1="768" y1="218" x2="768" y2="383" stroke="#ffb282" stroke-width="2.4"/>
<circle cx="768.0" cy="367.5" r="1.8" fill="#ff7020"/>
<circle cx="767.9" cy="218.0" r="1.4" fill="#ff6020"/>
<rect x="766.3" y="376" width="3.4" height="7.4" fill="#ff5a00"/>
<line x1="452.9" y1="375.5" x2="452.9" y2="383" stroke="#8a0000" stroke-width="1.3"/>
<polyline points="452.5,383.2 491.2,344.1 504.1,330 510,324.5 521.8,315.7 531.1,307.5 540,301.4 549.1,297.3 558.2,293.9 564.1,292.6 567.2,293.3 570.3,294.9 574.4,295.4 578.5,297.4 581.5,300 584.6,303.1 587.7,305.6 589.7,308.2 590.8,310.8 591.3,318 592.8,320.2 595.4,321.8 598.2,323 600.9,324.6 603.7,326.7 606.4,328 608.5,328 610.5,330.8 614.6,334.2 618.7,336.9 622.1,339 623.5,343.7 626.2,347.2 629,351.3 633.7,352.2 639.2,351.9 641.9,351.7 645.4,353.6" fill="none" stroke="#0000ff" stroke-width="1.6" stroke-linejoin="round" stroke-linecap="round" />
<line x1="37" y1="381.4" x2="392.3" y2="381.4" stroke="#3a3a3a" stroke-width="1.2"/>
<line x1="37" y1="120.5" x2="37" y2="381.4" stroke="#555" stroke-width="1.2"/>
<line x1="392.3" y1="120.5" x2="392.3" y2="381.4" stroke="#555" stroke-width="1.2"/>
<line x1="36.4" y1="120.5" x2="392.9" y2="120.5" stroke="#000" stroke-width="1.6"/>
<line x1="452.2" y1="383.5" x2="807.5" y2="383.5" stroke="#3a3a3a" stroke-width="1.2"/>
<line x1="452.2" y1="122.5" x2="452.2" y2="383.5" stroke="#555" stroke-width="1.2"/>
<line x1="807.5" y1="122.5" x2="807.5" y2="383.5" stroke="#555" stroke-width="1.2"/>
<line x1="451.6" y1="122.5" x2="808.1" y2="122.5" stroke="#000" stroke-width="1.6"/>
<rect x="220.5" y="125.5" width="167.3" height="113.8" fill="#fff" stroke="#5a5a5a" stroke-width="1.2"/>
<text x="271.3" y="140.3" class="lg">30 %</text>
<text x="271.3" y="151.5" class="lg">27.5%</text>
<text x="271.3" y="162.9" class="lg">25%</text>
<text x="271.3" y="174.5" class="lg">20%</text>
<text x="271.3" y="185.7" class="lg">15%</text>
<text x="271.3" y="197.2" class="lg">Relaxation strain</text>
<path d="M247.1 134.6 l2.1 3.6 l-4.2 0 Z" fill="#800000"/>
<rect x="245.3" y="146.2" width="3.6" height="3.3" rx="0.8" fill="#10e8f0"/>
<path d="M245.1 157.6 l4 0 l-2 3.4 Z" fill="none" stroke="#111" stroke-width="1"/>
<rect x="245.4" y="169.5" width="3.4" height="3" fill="none" stroke="#ff2020" stroke-width="1.1"/>
<path d="M247.1 180.1 l2 2 l-2 2 l-2 -2 Z" fill="#4040ff"/>
<line x1="231.9" y1="216.9" x2="262.7" y2="216.9" stroke="#0000ff" stroke-width="1.4"/>
<text x="271.3" y="219.8" class="lg">Loading curve</text>
<text x="271.3" y="234.2" class="lg">Strain rate = 2.3 <tspan class="mul">×</tspan> 10<tspan dy="-5" class="sup">8</tspan><tspan dy="5">s</tspan><tspan dy="-5.3" class="sup">-1</tspan></text>
<rect x="542.5" y="0.5" width="174" height="160.9" fill="#fff" stroke="#555" stroke-width="1.1"/>
<line x1="552.8" y1="12.3" x2="584.6" y2="12.3" stroke="#6a6aaa" stroke-width="1.3"/>
<text x="592.6" y="15.9" class="lg">50%</text>
<path d="M551.6 11.1 l2.4 2.4 M554 11.1 l-2.4 2.4" stroke="#30307a" stroke-width="1"/>
<path d="M583.4 11.1 l2.4 2.4 M585.8 11.1 l-2.4 2.4" stroke="#30307a" stroke-width="1"/>
<line x1="552.8" y1="23.6" x2="584.6" y2="23.6" stroke="#a8a830" stroke-width="1.3"/>
<text x="592.6" y="27.2" class="lg">45%</text>
<path d="M552.8 21.9 l1.7 1.7 l-1.7 1.7 l-1.7 -1.7 Z" fill="#8a8a10"/>
<path d="M584.6 21.9 l1.7 1.7 l-1.7 1.7 l-1.7 -1.7 Z" fill="#8a8a10"/>
<line x1="552.8" y1="35.2" x2="584.6" y2="35.2" stroke="#c04a4a" stroke-width="1.3"/>
<text x="592.6" y="38.8" class="lg">30%</text>
<path d="M552.8 33.3 l1.8 3 l-3.6 0 Z" fill="#a00000"/>
<path d="M584.6 33.3 l1.8 3 l-3.6 0 Z" fill="#a00000"/>
<line x1="552.8" y1="47" x2="584.6" y2="47" stroke="#30a8a8" stroke-width="1.3"/>
<text x="592.6" y="50.6" class="lg">27.5%</text>
<rect x="551.3" y="45.5" width="3" height="3" fill="#108080"/>
<rect x="583.1" y="45.5" width="3" height="3" fill="#108080"/>
<line x1="552.8" y1="58.3" x2="584.6" y2="58.3" stroke="#9a3aaa" stroke-width="1.3"/>
<text x="592.6" y="61.9" class="lg">25%</text>
<path d="M552.8 56.5 l1.8 1.8 l-1.8 1.8 l-1.8 -1.8 Z" fill="#802090"/>
<path d="M584.6 56.5 l1.8 1.8 l-1.8 1.8 l-1.8 -1.8 Z" fill="#802090"/>
<line x1="552.8" y1="69.8" x2="584.6" y2="69.8" stroke="#a8a8a8" stroke-width="1.3"/>
<text x="592.6" y="73.4" class="lg">20%</text>
<path d="M551.3 69.8 l3 0 M552.8 68.3 l0 3" stroke="#909090" stroke-width="0.9"/>
<path d="M583.1 69.8 l3 0 M584.6 68.3 l0 3" stroke="#909090" stroke-width="0.9"/>
<line x1="552.8" y1="81.4" x2="584.6" y2="81.4" stroke="#ff50ff" stroke-width="1.3"/>
<text x="592.6" y="85" class="lg">15%</text>
<path d="M552.8 79.5 l1.8 3 l-3.6 0 Z" fill="#ff30ff"/>
<path d="M584.6 79.5 l1.8 3 l-3.6 0 Z" fill="#ff30ff"/>
<text x="592.6" y="96.4" class="lg">Relaxation strain</text>
<line x1="552.8" y1="104.4" x2="584.6" y2="104.4" stroke="#ff0000" stroke-width="1.5"/>
<text x="592.6" y="107.6" class="lg">Loading curve</text>
<text x="592.6" y="122.2" class="lg">Strain rate = 1.0 <tspan class="mul">×</tspan> 10<tspan dy="-5" class="sup">15</tspan><tspan dy="5"> s</tspan><tspan dy="-5.3" class="sup">-1</tspan></text>
<line x1="552.8" y1="139.2" x2="584.6" y2="139.2" stroke="#8080ff" stroke-width="1.6"/>
<text x="592.6" y="142.2" class="lg">Loading curve</text>
<text x="592.6" y="156.3" class="lg">Strain rate = 2.3 <tspan class="mul">×</tspan> 10<tspan dy="-5" class="sup">8</tspan><tspan dy="5">s</tspan><tspan dy="-5.3" class="sup">-1</tspan></text>
<text x="172.1" y="412.4" class="al" textLength="86.4" lengthAdjust="spacingAndGlyphs">Strain, nm/nm.</text>
<text x="586.7" y="413.0" class="al" textLength="86.4" lengthAdjust="spacingAndGlyphs">Strain, nm/nm.</text>
<text transform="translate(11.0 284.2) rotate(-90)" class="al" style="font-size:13.6px" textLength="74" lengthAdjust="spacingAndGlyphs">Stress, GPa.</text>
<text transform="translate(425.6 286.2) rotate(-90)" class="al" style="font-size:13.6px" textLength="75" lengthAdjust="spacingAndGlyphs">Stress, GPa.</text>
<text x="123.14" y="434.6" class="capb" style="font-size:14px" textLength="18.46" lengthAdjust="spacingAndGlyphs">(a)</text>
<text x="145.89" y="434.6" class="cap" style="font-size:14px" textLength="35.16" lengthAdjust="spacingAndGlyphs">Strain</text>
<text x="185.26" y="434.6" class="cap" style="font-size:14px" textLength="21.88" lengthAdjust="spacingAndGlyphs">rate</text>
<text x="211.19" y="435.3" class="capm" style="font-size:14px" textLength="8.61" lengthAdjust="spacingAndGlyphs">=</text>
<text x="223.17" y="434.6" class="capm" style="font-size:13.6px" textLength="16.2" lengthAdjust="spacingAndGlyphs">2.3</text>
<text x="239.99" y="434.6" class="capm" style="font-size:13.6px" textLength="10.3" lengthAdjust="spacingAndGlyphs">×</text>
<text x="250.96" y="434.6" class="capm" style="font-size:13.6px" textLength="15.2" lengthAdjust="spacingAndGlyphs">10</text>
<text x="266.86" y="429.4" class="csup" style="font-size:9px" textLength="6.07" lengthAdjust="spacingAndGlyphs">8</text>
<text x="277.68" y="434.6" class="cap" style="font-size:14px" textLength="5.56" lengthAdjust="spacingAndGlyphs">s</text>
<text x="284.67" y="429.4" class="csup" style="font-size:9px" textLength="12.37" lengthAdjust="spacingAndGlyphs">−1</text>
<text x="539.52" y="434.6" class="capb" style="font-size:14px" textLength="19.71" lengthAdjust="spacingAndGlyphs">(b)</text>
<text x="563.49" y="434.6" class="cap" style="font-size:14px" textLength="35.16" lengthAdjust="spacingAndGlyphs">Strain</text>
<text x="602.55" y="434.6" class="cap" style="font-size:14px" textLength="22.81" lengthAdjust="spacingAndGlyphs">rate</text>
<text x="628.95" y="435.3" class="capm" style="font-size:14px" textLength="8.98" lengthAdjust="spacingAndGlyphs">=</text>
<text x="639.96" y="434.6" class="capm" style="font-size:13.6px" textLength="17.56" lengthAdjust="spacingAndGlyphs">1.0</text>
<text x="657.69" y="434.6" class="capm" style="font-size:13.6px" textLength="10.3" lengthAdjust="spacingAndGlyphs">×</text>
<text x="668.22" y="434.6" class="capm" style="font-size:13.6px" textLength="14.51" lengthAdjust="spacingAndGlyphs">10</text>
<text x="684.59" y="429.4" class="csup" style="font-size:9px" textLength="10.17" lengthAdjust="spacingAndGlyphs">15</text>
<text x="699.54" y="434.6" class="cap" style="font-size:14px" textLength="5.93" lengthAdjust="spacingAndGlyphs">s</text>
<text x="706.97" y="429.4" class="csup" style="font-size:9px" textLength="12.37" lengthAdjust="spacingAndGlyphs">−1</text>
</svg>
</body></html>
